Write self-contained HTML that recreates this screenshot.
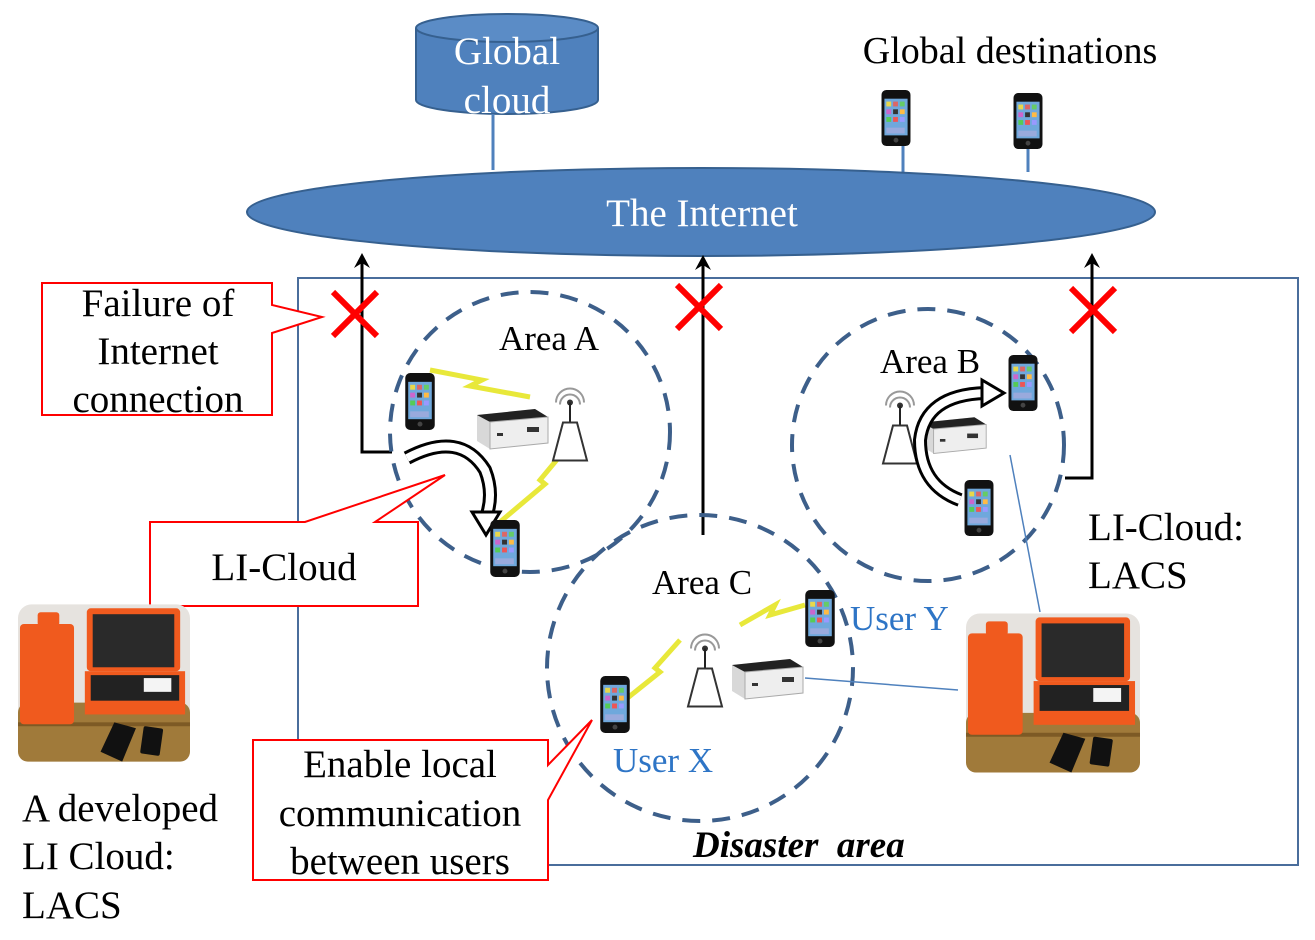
<!DOCTYPE html>
<html><head><meta charset="utf-8"><style>
body{margin:0;background:#fff}
svg{display:block;font-family:"Liberation Serif",serif}
text{white-space:pre}
</style></head><body>
<svg width="1315" height="940" viewBox="0 0 1315 940" xmlns="http://www.w3.org/2000/svg">
<defs>
<symbol id="ph" viewBox="0 0 30 58">
<rect x="0" y="0" width="30" height="58" rx="5" fill="#111"/>
<rect x="3" y="9" width="24" height="38" fill="#6fa8dc"/>
<rect x="5" y="12" width="5" height="5" fill="#e8d84b"/><rect x="12" y="12" width="5" height="5" fill="#d66"/><rect x="19" y="12" width="5" height="5" fill="#6c6"/>
<rect x="5" y="20" width="5" height="5" fill="#c6c"/><rect x="12" y="20" width="5" height="5" fill="#333"/><rect x="19" y="20" width="5" height="5" fill="#fb4"/>
<rect x="5" y="28" width="5" height="5" fill="#5c5"/><rect x="12" y="28" width="5" height="5" fill="#e55"/><rect x="19" y="28" width="5" height="5" fill="#99f"/>
<rect x="5" y="39" width="19" height="6" fill="#9ad"/>
<circle cx="15" cy="52" r="2.5" fill="#444"/>
</symbol>
<symbol id="tw" viewBox="0 0 40 90">
<path d="M6 28 A14 14 0 0 1 34 28 M10 30 A10 10 0 0 1 30 30" fill="none" stroke="#999" stroke-width="2"/>
<circle cx="20" cy="28" r="3" fill="#333"/>
<line x1="20" y1="28" x2="20" y2="48" stroke="#222" stroke-width="2"/>
<path d="M13 48 L27 48 L37 86 L3 86 Z" fill="#fff" stroke="#333" stroke-width="2"/>
</symbol>
<symbol id="bx" viewBox="0 0 75 45">
<path d="M2 10 L60 4 L73 12 L73 38 L15 44 L2 36 Z" fill="#d8d8d8"/>
<path d="M2 10 L60 4 L73 12 L15 17 Z" fill="#222"/>
<path d="M15 17 L73 12 L73 38 L15 44 Z" fill="#eee" stroke="#aaa"/>
<rect x="22" y="28" width="6" height="3" fill="#333"/><rect x="52" y="22" width="12" height="5" fill="#333"/>
</symbol>
<symbol id="kit" viewBox="0 0 175 160">
<rect x="0" y="0" width="175" height="160" rx="14" fill="#e6e3df"/>
<rect x="0" y="100" width="175" height="60" rx="10" fill="#a07a3a"/>
<rect x="0" y="120" width="175" height="4" fill="#7d5a25"/>
<rect x="2" y="20" width="55" height="102" rx="4" fill="#f05a1e"/>
<rect x="20" y="8" width="22" height="14" rx="3" fill="#f05a1e"/>
<rect x="70" y="4" width="95" height="64" rx="4" fill="#f05a1e"/>
<rect x="76" y="10" width="83" height="54" fill="#2a2a2a"/>
<rect x="68" y="68" width="102" height="44" fill="#f05a1e"/>
<rect x="74" y="72" width="90" height="26" fill="#222"/>
<rect x="128" y="75" width="28" height="14" fill="#f4f4f4"/>
<path d="M84 150 L98 120 L120 126 L106 160 Z" fill="#111"/>
<rect x="126" y="125" width="20" height="28" rx="2" fill="#111" transform="rotate(8 136 139)"/>
</symbol>
</defs>

<path d="M416 28 L416 100 A91 14 0 0 0 598 100 L598 28" fill="#4f81bd" stroke="#36608f" stroke-width="2"/>
<ellipse cx="507" cy="28" rx="91" ry="14" fill="#5b8cc6" stroke="#36608f" stroke-width="2"/>
<text x="507" y="64" font-size="39" fill="#fff" text-anchor="middle">Global</text>
<text x="507" y="113" font-size="39" fill="#fff" text-anchor="middle">cloud</text>
<line x1="493" y1="114" x2="493" y2="170" stroke="#4f81bd" stroke-width="3"/>

<text x="1010" y="63" font-size="38" text-anchor="middle">Global destinations</text>
<line x1="903" y1="140" x2="903" y2="172" stroke="#4f81bd" stroke-width="3"/>
<line x1="1028" y1="142" x2="1028" y2="172" stroke="#4f81bd" stroke-width="3"/>
<use href="#ph" x="881" y="90" width="30" height="56"/>
<use href="#ph" x="1013" y="93" width="30" height="56"/>

<ellipse cx="701" cy="212" rx="454" ry="44" fill="#4f81bd" stroke="#36608f" stroke-width="2"/>
<text x="702" y="226" font-size="39" fill="#fff" text-anchor="middle">The Internet</text>

<rect x="298" y="278" width="1000" height="587" fill="none" stroke="#4a6d9c" stroke-width="2"/>

<g stroke="#000" stroke-width="3" fill="none">
<polyline points="392,452 362,452 362,262"/>
<line x1="703" y1="535" x2="703" y2="264"/>
<polyline points="1065,478 1092,478 1092,262"/>
</g>
<g fill="#000">
<path d="M354 268 L362 253 L370 268 L362 263 Z"/>
<path d="M695 270 L703 255 L711 270 L703 265 Z"/>
<path d="M1084 268 L1092 253 L1100 268 L1092 263 Z"/>
</g>
<g stroke="#f00" stroke-width="6">
<line x1="333" y1="292" x2="377" y2="336"/><line x1="377" y1="292" x2="333" y2="336"/>
<line x1="677" y1="285" x2="721" y2="329"/><line x1="721" y1="285" x2="677" y2="329"/>
<line x1="1071" y1="288" x2="1115" y2="332"/><line x1="1115" y1="288" x2="1071" y2="332"/>
</g>

<g fill="none" stroke="#3d5f8a" stroke-width="4" stroke-dasharray="18,12">
<circle cx="530" cy="432" r="140"/>
<circle cx="928" cy="445" r="136"/>
<circle cx="700" cy="668" r="153"/>
</g>

<text x="549" y="350" font-size="35" text-anchor="middle">Area A</text>
<polyline points="430,370 482,380 470,386 530,397" fill="none" stroke="#e8e83a" stroke-width="5"/>
<polyline points="565,450 540,480 545,484 500,522" fill="none" stroke="#e8e83a" stroke-width="5"/>
<use href="#ph" x="405" y="373" width="30" height="57"/>
<use href="#bx" x="475" y="405" width="75" height="45"/>
<use href="#tw" x="550" y="372" width="40" height="95"/>
<path d="M407 458 Q460 430 485 470 Q495 495 485 520" fill="none" stroke="#000" stroke-width="14"/>
<path d="M407 458 Q460 430 485 470 Q495 495 485 520" fill="none" stroke="#fff" stroke-width="8"/>
<path d="M472 512 L486 535 L500 512 Z" fill="#fff" stroke="#000" stroke-width="3"/>
<use href="#ph" x="490" y="520" width="30" height="57"/>

<text x="930" y="373" font-size="35" text-anchor="middle">Area B</text>
<use href="#tw" x="880" y="375" width="40" height="95"/>
<use href="#bx" x="920" y="412" width="68" height="44"/>
<path d="M960 500 Q920 485 920 440 Q925 395 985 393" fill="none" stroke="#000" stroke-width="14"/>
<path d="M960 500 Q920 485 920 440 Q925 395 985 393" fill="none" stroke="#fff" stroke-width="8"/>
<path d="M982 380 L1004 393 L982 406 Z" fill="#fff" stroke="#000" stroke-width="3"/>
<use href="#ph" x="1008" y="355" width="30" height="56"/>
<use href="#ph" x="964" y="480" width="30" height="56"/>
<line x1="1010" y1="455" x2="1040" y2="612" stroke="#4f81bd" stroke-width="1.5"/>

<text x="702" y="594" font-size="35" text-anchor="middle">Area C</text>
<polyline points="680,640 655,668 660,672 625,700" fill="none" stroke="#e8e83a" stroke-width="5"/>
<polyline points="740,625 775,605 770,615 805,605" fill="none" stroke="#e8e83a" stroke-width="5"/>
<use href="#tw" x="685" y="618" width="40" height="95"/>
<use href="#bx" x="730" y="655" width="75" height="45"/>
<use href="#ph" x="805" y="590" width="30" height="57"/>
<use href="#ph" x="600" y="676" width="30" height="57"/>
<text x="850" y="630" font-size="35" fill="#2e75c6">User Y</text>
<text x="613" y="772" font-size="35" fill="#2e75c6">User X</text>
<line x1="805" y1="678" x2="958" y2="690" stroke="#4f81bd" stroke-width="1.5"/>

<path d="M42 283 L272 283 L272 305 L322 317 L272 333 L272 415 L42 415 Z" fill="#fff" stroke="#f00" stroke-width="2"/>
<text x="158" y="316" font-size="39" text-anchor="middle">Failure of</text>
<text x="158" y="364" font-size="39" text-anchor="middle">Internet</text>
<text x="158" y="412" font-size="39" text-anchor="middle">connection</text>

<path d="M150 522 L305 522 L445 475 L375 522 L418 522 L418 606 L150 606 Z" fill="#fff" stroke="#f00" stroke-width="2"/>
<text x="284" y="580" font-size="39" text-anchor="middle">LI-Cloud</text>

<path d="M253 740 L548 740 L548 765 L592 720 L548 800 L548 880 L253 880 Z" fill="#fff" stroke="#f00" stroke-width="2"/>
<text x="400" y="777" font-size="39" text-anchor="middle">Enable local</text>
<text x="400" y="826" font-size="39" text-anchor="middle">communication</text>
<text x="400" y="874" font-size="39" text-anchor="middle">between users</text>

<use href="#kit" x="18" y="603" width="172" height="160"/>
<use href="#kit" x="966" y="613" width="174" height="160"/>

<text x="22" y="821" font-size="39">A developed</text>
<text x="22" y="869" font-size="39">LI Cloud:</text>
<text x="22" y="918" font-size="39">LACS</text>
<text x="1088" y="540" font-size="39">LI-Cloud:</text>
<text x="1088" y="588" font-size="39">LACS</text>
<text x="693" y="857" font-size="37" font-weight="bold" font-style="italic">Disaster  area</text>
</svg>
</body></html>
